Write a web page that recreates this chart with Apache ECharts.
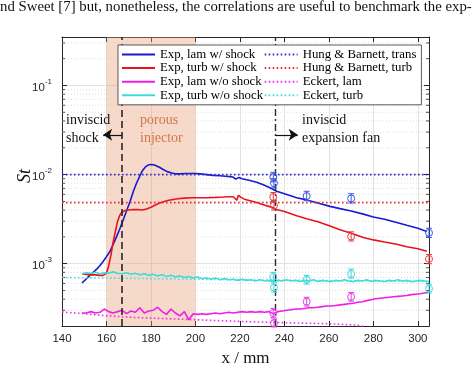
<!DOCTYPE html>
<html><head><meta charset="utf-8">
<script src="https://cdn.jsdelivr.net/npm/echarts@6/dist/echarts.min.js"></script>
<style>html,body{margin:0;padding:0;background:#fff}#c{width:474px;height:368px}</style>
</head><body><div id="c"></div>
<script>
// ---------- data ----------
const xRange = [140, 305];
const yRange = [2e-4, 0.35];
const injector = [160, 200];
const shockX = 167;
const fanX = 236;
const arrowY = 0.028;
const shockArrowEnd = 158.5;
const fanArrowEnd = 246;

const blueX = [149,150,151,152,153,154,155.6,157,158.5,160,161.6,163,164.5,166.1,167.5,169,170.6,172.1,173.5,175.1,176.3,177.5,178.7,179.9,181.2,182.6,184,185.5,187.3,189.3,191,193.1,195.5,197.6,200,202.1,205,207.9,211,213.5,215.5,216.8,217.6,218.2,218.8,219.5,221,224.5,227.5,230.5,233,235,236.5,240,245.5,250,255,260.5,265,270,275.5,280,285,290.5,295,300,304];
const blueY = [6.1e-4,6.4e-4,6.8e-4,7.2e-4,7.6e-4,8.0e-4,8.7e-4,9.5e-4,1.06e-3,1.2e-3,1.38e-3,1.65e-3,2.0e-3,2.5e-3,3.1e-3,3.9e-3,5.0e-3,6.5e-3,8.0e-3,9.8e-3,1.12e-2,1.22e-2,1.28e-2,1.3e-2,1.29e-2,1.25e-2,1.2e-2,1.14e-2,1.08e-2,1.04e-2,1.02e-2,1.02e-2,1.03e-2,1.03e-2,1.03e-2,1.02e-2,1.0e-2,9.8e-3,9.7e-3,9.6e-3,9.5e-3,9.4e-3,9.2e-3,8.9e-3,8.8e-3,9.3e-3,9.0e-3,8.6e-3,8.2e-3,7.7e-3,7.2e-3,6.8e-3,6.5e-3,6.1e-3,5.5e-3,5.2e-3,4.8e-3,4.4e-3,4.15e-3,3.9e-3,3.6e-3,3.35e-3,3.15e-3,2.9e-3,2.7e-3,2.5e-3,2.3e-3];

const redX = [149,151,153,155,157,158.5,160,161,162,163,164,165,166,167,168.5,170,172,174,176,178,180,182,184,186,188,190,192,195,198,202,205,209,212.5,215,217,217.8,218.6,219.3,220.5,222,225,227.5,230.5,233,235,236.5,240,245.5,250,255,260.5,265,270,275.5,280,285,290.5,295,300,304];
const redY = [7.7e-4,7.6e-4,7.5e-4,7.5e-4,7.4e-4,7.4e-4,7.8e-4,9.5e-4,1.25e-3,1.75e-3,2.3e-3,3.0e-3,3.5e-3,3.8e-3,3.95e-3,4.0e-3,4.05e-3,4.05e-3,4.0e-3,4.1e-3,4.3e-3,4.55e-3,4.8e-3,5.0e-3,5.15e-3,5.25e-3,5.35e-3,5.45e-3,5.5e-3,5.5e-3,5.5e-3,5.55e-3,5.6e-3,5.65e-3,5.65e-3,5.4e-3,5.15e-3,5.85e-3,5.55e-3,5.3e-3,5.05e-3,4.85e-3,4.6e-3,4.4e-3,4.25e-3,4.05e-3,3.85e-3,3.45e-3,3.2e-3,2.95e-3,2.65e-3,2.4e-3,2.2e-3,1.97e-3,1.85e-3,1.75e-3,1.65e-3,1.55e-3,1.47e-3,1.38e-3];

const noShockX = [149,151,153,155,157,159,161,163,165,167,169,171,173,175,177,179,181,183,185,187,189,191,193,195,197,199,201,203,205,207,209,211,213,215,217,219,221,223,225,227,229,231,233,235,237,239,241,243,245,247,249,251,253,255,257,259,261,263,265,267,269,271,273,275,277,279,281,283,285,287,289,291,293,295,297,299,301,303,305];
const cyanY = [7.7e-4,7.9e-4,7.8e-4,8.0e-4,7.7e-4,7.9e-4,7.8e-4,8.1e-4,7.8e-4,7.7e-4,7.9e-4,7.6e-4,7.8e-4,7.5e-4,7.7e-4,7.4e-4,7.6e-4,7.3e-4,7.5e-4,7.2e-4,7.4e-4,7.1e-4,7.3e-4,7.0e-4,7.2e-4,6.9e-4,7.1e-4,6.8e-4,6.9e-4,6.7e-4,6.9e-4,6.6e-4,6.8e-4,6.6e-4,6.7e-4,6.5e-4,6.7e-4,6.5e-4,6.6e-4,6.4e-4,6.6e-4,6.4e-4,6.5e-4,6.3e-4,6.5e-4,6.4e-4,6.6e-4,6.4e-4,6.5e-4,6.3e-4,6.5e-4,6.4e-4,6.6e-4,6.3e-4,6.5e-4,6.4e-4,6.3e-4,6.5e-4,6.4e-4,6.6e-4,6.4e-4,6.3e-4,6.5e-4,6.4e-4,6.6e-4,6.3e-4,6.5e-4,6.4e-4,6.3e-4,6.5e-4,6.4e-4,6.6e-4,6.4e-4,6.5e-4,6.3e-4,6.4e-4,6.5e-4,6.4e-4,6.3e-4];
const magentaY = [2.8e-4,2.8e-4,2.9e-4,2.8e-4,2.85e-4,3.1e-4,2.9e-4,2.8e-4,2.9e-4,3.0e-4,2.75e-4,2.95e-4,2.85e-4,3.2e-4,2.8e-4,2.95e-4,3.0e-4,3.25e-4,2.9e-4,2.7e-4,3.1e-4,2.8e-4,2.6e-4,2.9e-4,2.35e-4,2.75e-4,2.7e-4,2.75e-4,2.7e-4,2.75e-4,2.8e-4,2.75e-4,2.8e-4,2.85e-4,2.8e-4,2.85e-4,2.9e-4,2.85e-4,2.9e-4,2.85e-4,2.9e-4,2.85e-4,2.9e-4,2.75e-4,2.9e-4,2.95e-4,3.0e-4,3.05e-4,3.1e-4,3.1e-4,3.15e-4,3.2e-4,3.2e-4,3.25e-4,3.3e-4,3.35e-4,3.35e-4,3.4e-4,3.45e-4,3.5e-4,3.55e-4,3.6e-4,3.7e-4,3.75e-4,3.85e-4,3.95e-4,4.05e-4,4.1e-4,4.15e-4,4.2e-4,4.25e-4,4.3e-4,4.35e-4,4.4e-4,4.5e-4,4.55e-4,4.6e-4,4.7e-4,4.8e-4];

const hbX = [140, 305];
const hbTransY = [1.0e-2, 1.0e-2];
const hbTurbY = [4.85e-3, 4.85e-3];
const eckLamX = [140,150,160,175,190,200,220,240,260,272,276];
const eckLamY = [2.87e-4,2.75e-4,2.6e-4,2.48e-4,2.4e-4,2.35e-4,2.25e-4,2.18e-4,2.12e-4,2.05e-4,1.98e-4];
const eckTurbX = [140,170,200,230,260,305];
const eckTurbY = [7.0e-4,6.85e-4,6.7e-4,6.55e-4,6.45e-4,6.3e-4];

// markers: [x, St, low, high]
const blueMarks = [[235,9.4e-3,8.3e-3,1.06e-2],[235.3,8.0e-3,7.1e-3,9.0e-3],[250,5.75e-3,5.1e-3,6.5e-3],[270,5.4e-3,4.8e-3,6.1e-3],[305,2.22e-3,1.97e-3,2.5e-3]];
const redMarks = [[235,5.6e-3,5.0e-3,6.3e-3],[235.3,4.5e-3,4.0e-3,5.1e-3],[270,2.02e-3,1.8e-3,2.28e-3],[305,1.13e-3,1.0e-3,1.27e-3]];
const cyanMarks = [[235,7.1e-4,6.3e-4,8.0e-4],[235.3,5.4e-4,4.8e-4,6.1e-4],[250,6.6e-4,5.9e-4,7.4e-4],[270,7.7e-4,6.9e-4,8.7e-4],[305,5.25e-4,4.7e-4,5.9e-4]];
const magentaMarks = [[235,2.8e-4,2.5e-4,3.15e-4],[235.3,2.15e-4,1.95e-4,2.4e-4],[250,3.75e-4,3.35e-4,4.2e-4],[270,4.25e-4,3.8e-4,4.75e-4]];

const minorTicks = [3e-4,4e-4,5e-4,6e-4,7e-4,8e-4,9e-4,2e-3,3e-3,4e-3,5e-3,6e-3,7e-3,8e-3,9e-3,2e-2,3e-2,4e-2,5e-2,6e-2,7e-2,8e-2,9e-2,2e-1,3e-1];

const names = ['Exp, lam w/ shock','Exp, turb w/ shock','Exp, lam w/o shock','Exp, turb w/o shock',
  'Hung & Barnett, trans','Hung & Barnett, turb','Eckert, lam','Eckert, turb'];

// ---------- chart ----------
const C = {blue:'#1a1ad0', red:'#e8141c', mag:'#f01ee6', cyan:'#3ddcd6'};
const zip = (a,b) => a.map((v,i)=>[v,b[i]]);
const SERIF = '"Liberation Serif", "DejaVu Serif", serif';
const SANS = '"Liberation Sans", Arial, sans-serif';
const DOT = [1.6, 2.4];

function lineSeries(name, data, color, dotted) {
  return {name, type:'line', data, showSymbol:false, symbol:'none', z:3,
    lineStyle:{color, width:1.6, type: dotted?DOT:'solid', cap:'butt'},
    itemStyle:{color, opacity:0}, emphasis:{disabled:true}};
}
function markSeries(data, color) {
  return {type:'custom', data, encode:{x:0,y:1}, z:6, clip:false, silent:true,
    renderItem:(params, api) => {
      const x = api.value(0);
      const p = api.coord([x, api.value(1)]);
      const lo = api.coord([x, api.value(2)]);
      const hi = api.coord([x, api.value(3)]);
      const s = {stroke:color, lineWidth:1, fill:null};
      return {type:'group', children:[
        {type:'line', shape:{x1:p[0],y1:lo[1],x2:p[0],y2:hi[1]}, style:s},
        {type:'line', shape:{x1:p[0]-3,y1:lo[1],x2:p[0]+3,y2:lo[1]}, style:s},
        {type:'line', shape:{x1:p[0]-3,y1:hi[1],x2:p[0]+3,y2:hi[1]}, style:s},
        {type:'circle', shape:{cx:p[0],cy:p[1],r:3.5}, style:{stroke:color,lineWidth:1,fill:'rgba(0,0,0,0)'}}
      ]};
    }};
}

const chart = echarts.init(document.getElementById('c'), null, {renderer:'canvas'});
const axisColor = '#262626';
const option = {
  animation:false,
  grid:{left:62, right:45, top:37, bottom:42, outerBoundsMode:'none', containLabel:false},
  xAxis:[
    {type:'value', min:xRange[0], max:xRange[1], interval:20,
      axisLine:{show:true, lineStyle:{color:axisColor, width:1}},
      axisTick:{show:true, inside:true, length:5, lineStyle:{color:axisColor}},
      axisLabel:{color:axisColor, fontFamily:SANS, fontSize:11.5, margin:7,
        formatter:v => (v % 20 === 0 ? String(v) : '')},
      splitLine:{show:true, lineStyle:{color:'#e2e2e2', width:1}},
      name:'x / mm', nameLocation:'middle', nameGap:19,
      nameTextStyle:{fontFamily:SERIF, fontSize:17, color:'#111'}},
    {type:'value', position:'top', min:xRange[0], max:xRange[1], interval:20,
      axisLine:{show:true, lineStyle:{color:axisColor, width:1}},
      axisTick:{show:true, inside:true, length:5, lineStyle:{color:axisColor}},
      axisLabel:{show:false}, splitLine:{show:false}}
  ],
  yAxis:[
    {type:'log', logBase:10, min:yRange[0], max:yRange[1],
      axisLine:{show:true, lineStyle:{color:axisColor, width:1}},
      axisTick:{show:true, inside:true, length:5, lineStyle:{color:axisColor}},
      axisLabel:{color:axisColor, margin:10,
        formatter:v => { const e = Math.log10(v), r = Math.round(e);
          return Math.abs(e-r) > 1e-6 ? '' : '{b|10}{s|' + r + '}'; },
        rich:{b:{fontFamily:SANS, fontSize:11.5, color:axisColor, lineHeight:16, verticalAlign:'bottom'},
              s:{fontFamily:SANS, fontSize:8, color:axisColor, lineHeight:16, verticalAlign:'top'}}},
      splitLine:{show:true, lineStyle:{color:'#e2e2e2', width:1}}},
    {type:'log', logBase:10, position:'right', min:yRange[0], max:yRange[1],
      axisLine:{show:true, lineStyle:{color:axisColor, width:1}},
      axisTick:{show:true, inside:true, length:5, lineStyle:{color:axisColor}},
      axisLabel:{show:false}, splitLine:{show:false}}
  ],
  legend:{orient:'vertical', left:118, top:45, height:56, itemWidth:33, itemHeight:10, itemGap:0.6,
    padding:[3,5,3,3], backgroundColor:'#fff', borderColor:'#333', borderWidth:0.8, z:10,
    itemStyle:{opacity:0, borderWidth:0},
    textStyle:{fontFamily:SERIF, fontSize:12.8, color:'#000', lineHeight:13},
    data:names, selectedMode:false},
  graphic:[
    {type:'text', x:0, y:7, z:20, style:{text:'nd Sweet [7] but, nonetheless, the correlations are useful to benchmark the exp-',
      font:'14.8px ' + SERIF, fill:'#111', align:'left', verticalAlign:'middle', textAlign:'left', textVerticalAlign:'middle'}},
    {type:'text', x:25, y:176, rotation:Math.PI/2, z:20, style:{text:'St', font:'italic 18px ' + SERIF, fill:'#111',
      align:'center', verticalAlign:'middle', textAlign:'center', textVerticalAlign:'middle'}},
    {type:'text', x:66, y:111, z:20, style:{text:'inviscid\nshock', font:'14px ' + SERIF, fill:'#111', lineHeight:18.5,
      align:'left', verticalAlign:'top', textAlign:'left', textVerticalAlign:'top'}},
    {type:'text', x:140, y:111, z:20, style:{text:'porous\ninjector', font:'14px ' + SERIF, fill:'#d2764c', lineHeight:18.5,
      align:'left', verticalAlign:'top', textAlign:'left', textVerticalAlign:'top'}},
    {type:'text', x:302, y:111, z:20, style:{text:'inviscid\nexpansion fan', font:'14px ' + SERIF, fill:'#111', lineHeight:18.5,
      align:'left', verticalAlign:'top', textAlign:'left', textVerticalAlign:'top'}}
  ],
  series:[
    lineSeries(names[0], zip(blueX, blueY), C.blue, false),
    lineSeries(names[1], zip(redX, redY), C.red, false),
    lineSeries(names[2], zip(noShockX, magentaY), C.mag, false),
    lineSeries(names[3], zip(noShockX, cyanY), C.cyan, false),
    lineSeries(names[4], zip(hbX, hbTransY), '#3030d8', true),
    lineSeries(names[5], zip(hbX, hbTurbY), '#e83030', true),
    lineSeries(names[6], zip(eckLamX, eckLamY), '#ee30ee', true),
    lineSeries(names[7], zip(eckTurbX, eckTurbY), '#4adede', true),
    {type:'custom', silent:true, z:1.5, data: minorTicks.map(v => [xRange[0], v]), encode:{x:0,y:1},
      renderItem:(params, api) => {
        const y = api.coord([xRange[0], api.value(1)])[1];
        const cs = params.coordSys;
        return {type:'group', children:[
          {type:'line', shape:{x1:cs.x, y1:y, x2:cs.x+cs.width, y2:y}, style:{stroke:'#d4d4d4', lineWidth:0.8, lineDash:[1,2]}},
          {type:'line', shape:{x1:cs.x, y1:y, x2:cs.x+3, y2:y}, style:{stroke:axisColor, lineWidth:0.8}},
          {type:'line', shape:{x1:cs.x+cs.width-3, y1:y, x2:cs.x+cs.width, y2:y}, style:{stroke:axisColor, lineWidth:0.8}}
        ]};
      }},
    {type:'line', data:[], z:1, silent:true,
      markArea:{silent:true, itemStyle:{color:'rgba(232,160,120,0.40)'}, data:[[{xAxis:injector[0]},{xAxis:injector[1]}]]}},
    {type:'line', data:[], z:4, silent:true,
      markLine:{silent:true, symbol:'none', label:{show:false}, animation:false,
        data:[{xAxis:shockX, lineStyle:{color:'#2a2a2a', width:1.6, type:[7,4]}},
              {xAxis:fanX, lineStyle:{color:'#2a2a2a', width:1.4, type:[7,3,2,3]}}]}},
    {type:'line', data:[], z:4, silent:true,
      markLine:{silent:true, symbol:['none','arrow'], symbolSize:9, label:{show:false}, animation:false,
        lineStyle:{color:'#111', width:1.2, type:'solid'},
        data:[[{coord:[shockX, arrowY]},{coord:[shockArrowEnd, arrowY]}],
              [{coord:[fanX, arrowY]},{coord:[fanArrowEnd, arrowY]}]]}},
    markSeries(blueMarks, '#3a55e0'),
    markSeries(redMarks, '#e04040'),
    markSeries(cyanMarks, '#40d8e0'),
    markSeries(magentaMarks, '#e040e0')
  ]
};
chart.setOption(option);
</script></body></html>
